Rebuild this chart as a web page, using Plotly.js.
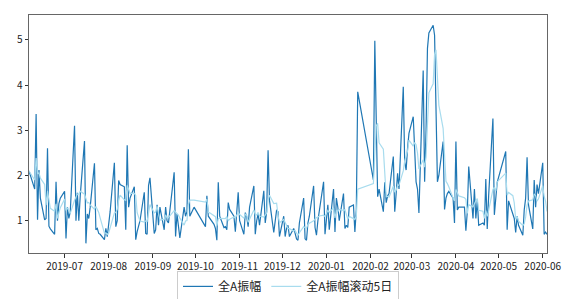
<!DOCTYPE html>
<html><head><meta charset="utf-8">
<script src="https://cdn.plot.ly/plotly-3.0.1.min.js"></script>
<style>html,body{margin:0;padding:0;background:#fff}#chart{width:576px;height:299px}</style>
</head><body><div id="chart"></div>
<script>
// Trading-calendar data (Shanghai/Shenzhen), 2019-06-06 .. 2020-06-04
const startDate = '2019-06-06';
const endDate = '2020-06-04';
const holidays = ['2019-06-07','2019-09-13','2019-10-01','2019-10-02','2019-10-03','2019-10-04','2019-10-07',
  '2020-01-01','2020-01-24','2020-01-27','2020-01-28','2020-01-29','2020-01-30','2020-01-31',
  '2020-04-06','2020-05-01','2020-05-04','2020-05-05'];

// 全A振幅 (%), one value per trading day, grouped by month
const amp_2019_06 = [2.10,1.70,3.36,1.02,2.12,1.50,1.02,1.05,2.60,0.88,0.82,0.70,1.86,1.00,1.38,1.50];
const amp_2019_07 = [1.65,0.61,1.30,1.05,1.20,3.10,1.00,1.62,1.00,1.55,2.76,0.50,1.15,1.05,1.30,2.27,0.80,0.83,0.72,0.70,0.58,0.83,0.65];
const amp_2019_08 = [0.90,1.20,2.28,0.87,1.00,1.89,1.80,1.75,0.80,2.67,1.30,1.50,1.75,0.58,0.76,0.87,1.00,1.63,0.72,0.70,1.78,1.95];
const amp_2019_09 = [0.72,0.80,1.35,0.90,1.30,0.80,1.30,1.00,0.95,2.07,0.65,1.15,0.80,0.62,1.30,1.10,1.20,2.58,1.10,1.30];
const amp_2019_10 = [0.87,1.55,1.10,1.05,0.92,0.83,0.57,1.85,1.10,0.85,0.87,0.80,1.40,1.25,1.10,0.76,1.20,1.63];
const amp_2019_11 = [1.00,0.70,1.18,1.08,0.87,1.30,1.77,0.70,1.00,1.15,0.90,1.66,0.95,1.20,2.56,1.45,0.74,0.95,1.24,1.20,0.65];
const amp_2019_12 = [1.10,0.65,0.83,0.90,0.65,0.83,0.72,0.60,0.57,0.95,1.50,0.60,0.57,0.95,1.10,1.77,0.85,0.68,1.00,1.22,1.86,0.70];
const amp_2020_01 = [1.35,0.80,1.70,0.75,1.50,1.30,1.00,1.60,0.83,0.90,0.85,1.30,1.35,0.75,1.25,3.85];
const amp_2020_02 = [1.90,4.98,3.50,1.53,1.70,1.20,1.85,1.40,1.55,1.60,2.42,1.20,1.60,2.05,1.70,3.96,2.30,2.12,2.60,2.93];
const amp_2020_03 = [3.30,2.70,1.86,1.70,1.17,4.32,1.86,3.00,4.81,5.15,5.32,5.10,3.50,1.86,2.00,2.75,1.25,1.50,1.60,1.65,1.50,0.95];
const amp_2020_04 = [2.75,1.24,1.30,1.30,0.78,1.20,2.20,1.05,1.70,1.05,1.45,0.90,0.95,0.90,1.92,0.82,1.55,3.26,1.13,1.50,1.85];
const amp_2020_05 = [2.53,0.80,1.44,1.15,1.05,0.74,1.10,0.90,0.68,1.24,1.50,2.40,1.35,0.82,1.90,1.30,1.80,1.60];
const amp_2020_06 = [2.28,0.70,0.75,0.70];

const seriesNames = ['全A振幅', '全A振幅滚动5日'];
const rollWindow = 5;

function tradingDays(start, end, hol) {
  const out = [];
  const d = new Date(start + 'T00:00:00Z');
  const e = new Date(end + 'T00:00:00Z');
  while (d <= e) {
    const wd = d.getUTCDay();
    const s = d.toISOString().slice(0, 10);
    if (wd !== 0 && wd !== 6 && hol.indexOf(s) < 0) out.push(s);
    d.setUTCDate(d.getUTCDate() + 1);
  }
  return out;
}

const dates = tradingDays(startDate, endDate, holidays);
const amp = [].concat(amp_2019_06, amp_2019_07, amp_2019_08, amp_2019_09, amp_2019_10, amp_2019_11,
  amp_2019_12, amp_2020_01, amp_2020_02, amp_2020_03, amp_2020_04, amp_2020_05, amp_2020_06);
// 5-day rolling mean of the series above (what the second legend entry is defined as)
const rolling = amp.map((v, i) => {
  const w = amp.slice(Math.max(0, i - rollWindow + 1), i + 1);
  return w.reduce((a, b) => a + b, 0) / w.length;
});
if (dates.length !== amp.length) console.error('length mismatch', dates.length, amp.length);

const FONT = '"Noto Sans CJK SC", "DejaVu Sans", sans-serif';
const traces = [
  {x: dates, y: amp, name: seriesNames[0], type: 'scatter', mode: 'lines',
   line: {color: '#1f77b4', width: 1.2}},
  {x: dates, y: rolling, name: seriesNames[1], type: 'scatter', mode: 'lines',
   line: {color: '#a8dcee', width: 1.2}}
];
const layout = {
  width: 576, height: 299,
  margin: {l: 29, r: 29, t: 15, b: 46, autoexpand: false},
  paper_bgcolor: '#fff', plot_bgcolor: '#fff',
  font: {family: FONT, size: 10, color: '#222'},
  xaxis: {type: 'date', range: [dates[0], dates[dates.length - 1]], tickformat: '%Y-%m',
    dtick: 'M1', tick0: '2019-07-01', ticks: 'outside', ticklen: 3.5, tickcolor: '#333',
    showgrid: false, zeroline: false, showline: true, linecolor: '#666', linewidth: 1, mirror: true,
    tickfont: {family: FONT, size: 10, color: '#222'}},
  yaxis: {range: [0.287, 5.547], tickvals: [1, 2, 3, 4, 5], ticks: 'outside', ticklen: 3.5, tickcolor: '#333',
    showgrid: false, zeroline: false, showline: true, linecolor: '#666', linewidth: 1, mirror: true,
    tickfont: {family: FONT, size: 10, color: '#222'}},
  legend: {orientation: 'h', x: 0.5, xanchor: 'center', xref: 'paper',
    y: 0.094, yanchor: 'top', yref: 'container',
    bordercolor: '#ccc', borderwidth: 1, bgcolor: '#fff', font: {family: FONT, size: 12, color: '#222'}},
  showlegend: true
};
Plotly.newPlot('chart', traces, layout, {displayModeBar: false, staticPlot: true});
</script>
</body></html>
